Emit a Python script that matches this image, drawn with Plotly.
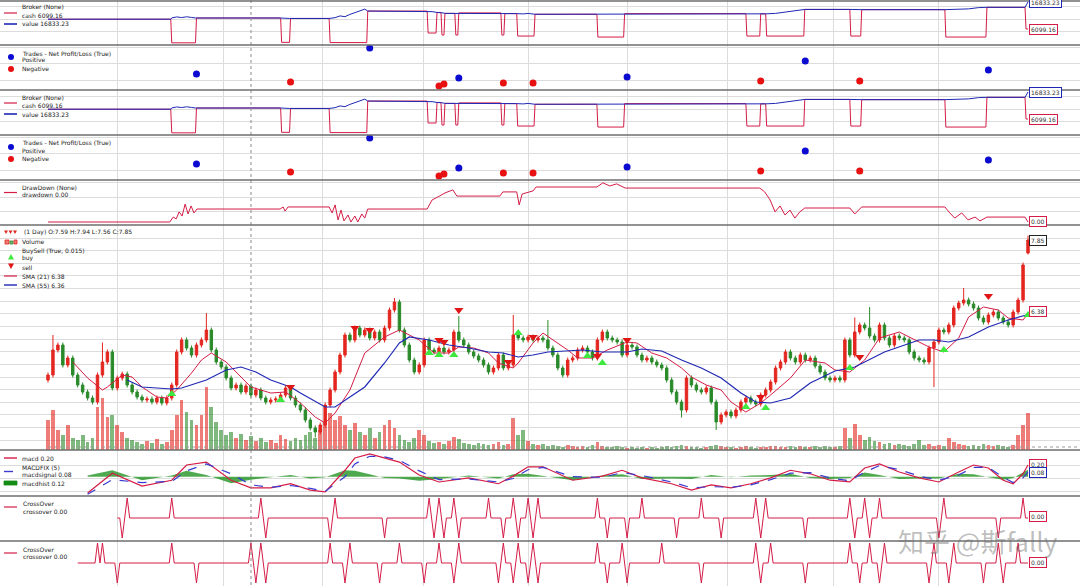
import plotly.graph_objects as go
from plotly.subplots import make_subplots

# ---------------- data ----------------
closes = [
    5.15, 5.65, 5.75, 5.35, 5.49, 5.15, 4.95, 4.81, 4.69, 4.61,
    5.15, 5.41, 5.61, 4.89, 5.09, 5.17, 4.95, 4.81, 4.71, 4.65,
    4.67, 4.61, 4.69, 4.59, 4.69, 4.95, 5.61, 5.85, 5.69, 5.55,
    5.75, 5.85, 6.05, 5.65, 5.41, 5.31, 5.09, 4.89, 4.95, 4.81,
    4.93, 4.75, 4.85, 4.69, 4.61, 4.65, 4.67, 4.75, 4.89, 4.69,
    4.55, 4.45, 4.25, 4.09, 4.01, 4.15, 4.55, 4.85, 5.21, 5.55,
    5.95, 5.85, 6.09, 5.95, 6.05, 5.89, 6.01, 5.85, 6.09, 6.45,
    6.61, 6.05, 5.75, 5.45, 5.21, 5.35, 5.85, 5.65, 5.61, 5.69,
    5.61, 5.65, 6.01, 5.85, 5.75, 5.61, 5.53, 5.45, 5.35, 5.21,
    5.29, 5.55, 5.29, 5.35, 5.95, 5.89, 5.85, 5.91, 5.85, 5.89,
    5.85, 5.69, 5.55, 5.29, 5.15, 5.45, 5.49, 5.65, 5.69, 5.61,
    5.49, 5.85, 6.01, 5.89, 5.85, 5.81, 5.55, 5.75, 5.71, 5.55,
    5.45, 5.49, 5.41, 5.35, 5.29, 5.05, 4.81, 4.61, 4.45, 5.09,
    4.95, 4.85, 4.81, 4.89, 4.61, 4.21, 4.35, 4.41, 4.33, 4.45,
    4.61, 4.69, 4.61, 4.57, 4.75, 4.85, 5.01, 5.29, 5.41, 5.61,
    5.49, 5.41, 5.55, 5.45, 5.49, 5.33, 5.21, 5.09, 5.05, 5.09,
    5.05, 5.85, 5.55, 6.01, 6.15, 6.09, 5.93, 5.85, 6.15, 5.89,
    5.75, 5.93, 5.89, 5.85, 5.61, 5.49, 5.45, 5.41, 5.69, 5.81,
    6.05, 6.01, 6.15, 6.49, 6.59, 6.65, 6.57, 6.49, 6.29, 6.21,
    6.35, 6.41, 6.29, 6.21, 6.15, 6.41, 6.65, 7.35, 7.85]
first_open = 5.05
last_bar = {"o": 7.59, "h": 7.94, "l": 7.56, "c": 7.85}
high_spikes = {1: 5.95, 11: 5.80, 32: 6.39, 70: 6.69, 83: 6.33, 94: 6.35, 101: 6.25,
               163: 6.30, 166: 6.51, 185: 6.89}
low_spikes = {54: 3.90, 128: 4.30, 135: 4.05, 179: 4.91}
volume = [
    300, 400, 200, 150, 250, 120, 100, 150, 80, 120,
    430, 520, 330, 350, 250, 180, 120, 100, 80, 60,
    90, 70, 110, 60, 80, 200, 350, 500, 380, 300,
    250, 350, 630, 430, 280, 200, 150, 180, 120, 160,
    100, 140, 90, 120, 80, 100, 70, 150, 110, 90,
    120, 100, 150, 180, 120, 200, 280, 370, 300, 340,
    250, 200, 270, 180, 150, 220, 120, 180, 250, 300,
    220, 150, 100, 80, 120, 200, 150, 90, 70, 80,
    60, 90, 130, 110, 70, 60, 50, 70, 60, 50,
    60, 80, 50, 60, 320, 150, 200, 90, 60, 50,
    60, 40, 50, 40, 30, 50, 40, 30, 40, 30,
    50, 80, 40, 30, 30, 40, 30, 20, 30, 20,
    30, 20, 30, 20, 30, 40, 30, 40, 50, 40,
    30, 30, 20, 30, 40, 50, 40, 30, 30, 20,
    30, 40, 30, 20, 30, 30, 40, 40, 30, 30,
    40, 30, 40, 30, 30, 40, 30, 40, 30, 30,
    40, 220, 120, 260, 150, 100, 130, 90, 80, 60,
    70, 50, 60, 50, 40, 60, 100, 50, 60, 40,
    50, 40, 120, 80, 60, 50, 40, 50, 40, 60,
    50, 40, 50, 40, 30, 50, 150, 250, 370]

sma21_x = [5, 8, 11, 12, 15, 17, 19, 22, 24, 26, 29, 31, 33, 36, 39, 41, 45, 48, 51, 54,
           56, 58, 61, 64, 68, 71, 75, 78, 81, 83, 86, 89, 91, 94, 95, 98, 100, 102, 105, 107,
           110, 113, 117, 119, 122, 125, 128, 130, 133, 136, 138, 141, 144, 146, 150, 153, 157, 159, 162, 165,
           168, 172, 174, 178, 181, 184, 186, 189, 192, 194, 197, 198]
sma21_y = [5.41, 5.09, 4.85, 4.91, 5.15, 5.11, 4.91, 4.71, 4.69, 4.85, 5.19, 5.45, 5.59, 5.41, 5.11, 4.91, 4.79, 4.81, 4.59, 4.31,
           4.19, 4.39, 4.85, 5.59, 5.91, 6.05, 5.85, 5.59, 5.59, 5.71, 5.69, 5.59, 5.39, 5.29, 5.39, 5.79, 5.99, 5.85, 5.65, 5.49,
           5.49, 5.65, 5.81, 5.79, 5.59, 5.49, 5.29, 5.11, 4.95, 4.85, 4.61, 4.41, 4.59, 4.75, 5.09, 5.45, 5.39, 5.25, 5.21, 5.45,
           5.89, 6.01, 5.91, 5.71, 5.61, 5.89, 6.31, 6.51, 6.45, 6.29, 6.25, 6.38]
sma55_x = [16, 19, 25, 27, 32, 36, 39, 42, 45, 49, 51, 56, 58, 64, 68, 71, 73, 77, 81, 85,
           89, 92, 95, 98, 101, 108, 112, 117, 120, 124, 128, 132, 136, 140, 143, 146, 150, 154, 159, 163,
           169, 176, 179, 182, 186, 190, 194, 198]
sma55_y = [5.05, 4.91, 4.87, 4.89, 5.05, 5.25, 5.31, 5.21, 5.05, 4.91, 4.79, 4.51, 4.51, 4.91, 5.39, 5.79, 5.91, 5.85, 5.75, 5.69,
           5.61, 5.59, 5.51, 5.55, 5.61, 5.65, 5.61, 5.61, 5.67, 5.63, 5.45, 5.29, 5.09, 4.79, 4.61, 4.59, 4.69, 4.99, 5.23, 5.31,
           5.61, 5.85, 5.85, 5.81, 5.91, 6.11, 6.25, 6.36]

buy_x = [25, 47, 77, 79, 82, 95, 109, 112, 141, 145, 162, 181, 198]
buy_y = [4.77, 4.65, 5.59, 5.55, 5.55, 5.99, 5.53, 5.39, 4.51, 4.49, 5.29, 5.65, 6.35]
sell_x = [49, 62, 65, 79, 80, 83, 93, 98, 111, 117, 144, 164, 190]
sell_y = [4.91, 6.09, 6.05, 5.85, 5.81, 6.45, 5.41, 5.91, 5.53, 5.85, 4.71, 5.51, 6.73]

cash_x = [0, 24.8, 25.0, 29.8, 30.0, 47.0, 47.2, 48.8, 49.0, 56.8, 57.0, 64.4, 64.6, 76.6, 76.8, 78.4, 78.6,
          79.4, 79.6, 80.0, 80.2, 82.2, 82.4, 82.8, 83.0, 91.5, 91.7, 92.1, 92.3, 94.7, 94.9, 98.2, 98.4,
          110.9, 111.1, 116.3, 116.5, 141.0, 141.2, 143.8, 144.0, 145.0, 145.2, 152.7, 152.9, 162.0, 162.2,
          164.2, 164.4, 181.2, 181.4, 189.5, 189.7, 197.4, 197.6, 198]
cash_y = [10000, 10000, 600, 600, 10470, 10470, 800, 800, 10290, 10290, 700, 700, 13233, 13233, 4500, 4500, 12680,
          12680, 3700, 3700, 12310, 12310, 3700, 3700, 12500, 12500, 3700, 3700, 12220, 12220, 3300, 3300, 11950,
          11950, 2900, 2900, 12220, 12220, 3300, 3300, 12130, 12130, 3300, 3300, 13880, 13880, 3300,
          3300, 13790, 13790, 2900, 2900, 14710, 14710, 6099.16, 6099.16]
value_x = [0, 24.8, 25, 26, 27, 28, 29, 29.8, 47.0, 47.6, 48.8, 56.8, 58, 59, 60, 61, 62, 63, 64, 64.6,
           76.6, 77.6, 78.6, 79.4, 79.8, 80.2, 82.2, 82.6, 83.0, 91.5, 91.9, 92.3, 94.7, 96, 97, 98.4,
           110.9, 112, 114, 115, 116.5, 141.0, 142.5, 144.0, 145.0, 147, 149, 151, 152.9, 162.0, 163.2, 164.4,
           181.2, 183, 185, 186, 188, 189.7, 197.4, 198]
value_y = [10000, 10000, 10500, 10900, 10650, 10950, 10700, 10470, 10470, 10400, 10290, 10290, 10600, 11300,
           11000, 11900, 12600, 13100, 14000, 13233, 13233, 13000, 12680, 12680, 12500, 12310, 12310, 12450,
           12500, 12500, 12350, 12220, 12220, 12100, 12300, 11950, 11950, 12000, 12150, 12050, 12220, 12220,
           12180, 12130, 12130, 12300, 12900, 13400, 13880, 13880, 13700, 13790, 13790, 13900, 14300, 14100,
           14600, 14710, 14710, 16833.23]

trade_x = [30, 49, 65, 79, 80, 83, 92, 98, 117, 144, 153, 164, 190]
trade_pnl = [552, -184, 2944, -552, -368, 184, -276, -276, 276, -92, 1748, -92, 920]

dd_x = [0, 24.6, 25.3, 25.9, 26.5, 27.1, 27.7, 28.3, 28.9, 29.5, 30.1, 46.9, 47.5, 47.9, 48.5,
        56.8, 57.4, 58.0, 58.6, 59.2, 59.8, 60.6, 61.2, 62.0, 62.6, 63.4, 64.0, 64.6,
        76.6, 77.6, 78.8, 80.2, 81.8, 82.6, 91.3, 91.9, 94.7, 95.2, 95.8, 98.0, 98.6,
        110.9, 112.1, 113.5, 114.9, 116.6, 143.8, 144.8, 145.9, 146.9, 147.9, 148.9, 149.9, 150.9, 151.9, 152.9,
        162.0, 163.0, 164.4, 181.2, 182.2, 183.2, 184.6, 185.9, 187.3, 188.3, 189.7, 197.4, 198]
dd_y = [0, 0, 1.9, 1.2, 3.9, 2.3, 6.9, 3.1, 6.2, 3.5, 5.0, 5.0, 5.8, 4.2, 5.8,
        5.8, 3.5, 6.6, 0.8, 4.6, 0.4, 2.7, 0, 2.3, 0, 3.1, 1.5, 5.0,
        5.0, 8.5, 9.7, 11.2, 12.4, 10.0, 10.0, 11.6, 11.6, 6.6, 10.8, 12.0, 13.5,
        13.5, 15.1, 13.9, 14.7, 13.1, 13.1, 11.6, 8.5, 3.9, 6.2, 2.7, 4.6, 1.5, 3.9, 5.4,
        5.4, 3.1, 5.8, 5.8, 3.5, 1.5, 3.5, 0.8, 1.9, 0.4, 1.9, 1.9, 0]

macd_x = [8, 13, 19, 25, 28, 32, 37, 41, 45, 49, 53, 56, 60, 62, 65, 68, 71, 75, 79, 85,
          91, 94, 97, 100, 106, 112, 116, 120, 126, 130, 134, 138, 142, 146, 150, 154, 158, 162, 165, 168,
          172, 176, 180, 184, 187, 190, 193, 195, 197, 198]
macd_y = [-0.28, 0.06, -0.16, -0.06, 0.20, 0.25, -0.06, -0.19, -0.19, -0.12, -0.23, -0.26, 0.11, 0.32, 0.39, 0.32, 0.25, 0.03, -0.09, -0.02,
          -0.12, 0.01, 0.17, 0.17, -0.06, 0.01, 0.11, -0.02, -0.12, -0.23, -0.14, -0.19, -0.12, -0.02, 0.11, 0.05, -0.06, -0.09, 0.15, 0.22,
          0.08, -0.02, -0.09, 0.08, 0.20, 0.15, -0.06, -0.12, 0.05, 0.20]
macd_sig = [-0.30, -0.05, -0.10, -0.08, 0.10, 0.22, 0.05, -0.14, -0.18, -0.15, -0.20, -0.25, 0.00, 0.22, 0.35, 0.34, 0.28, 0.10, -0.05, -0.04,
            -0.09, -0.03, 0.12, 0.16, 0.00, -0.01, 0.07, 0.02, -0.09, -0.19, -0.17, -0.18, -0.14, -0.05, 0.06, 0.07, -0.02, -0.07, 0.08, 0.19,
            0.12, 0.01, -0.06, 0.03, 0.16, 0.16, -0.01, -0.10, -0.02, 0.08]
macd_hist = [0.02, 0.11, -0.06, 0.02, 0.10, 0.03, -0.11, -0.05, -0.01, 0.03, -0.03, -0.01, 0.11, 0.10, 0.04, -0.02, -0.03, -0.07, -0.04, 0.02,
             -0.03, 0.04, 0.05, 0.01, -0.06, 0.02, 0.04, -0.04, -0.03, -0.04, 0.03, -0.01, 0.02, 0.03, 0.05, -0.02, -0.04, -0.02, 0.07, 0.03,
             -0.04, -0.03, -0.03, 0.05, 0.04, -0.01, -0.05, -0.02, 0.07, 0.12]

cross1_start = 14
cross1_events = {15: -1, 16: 1, 25: 1, 43: 1, 44: -1, 57: -1, 58: 1, 68: -1, 77: 1, 78: -1, 79: 1, 80: -1,
                 82: 1, 83: -1, 89: 1, 92: -1, 94: 1, 95: -1, 97: 1, 98: -1, 99: 1, 111: 1, 113: -1, 117: -1,
                 120: 1, 127: -1, 132: 1, 136: -1, 143: 1, 144: -1, 145: 1, 153: -1, 162: 1, 163: -1, 165: 1,
                 166: -1, 168: 1, 180: -1, 181: 1, 192: -1, 197: 1}
cross2_start = 6
cross2_events = {10: 1, 11: 1, 14: -1, 25: 1, 30: -1, 41: 1, 42: -1, 43: 1, 44: -1, 57: 1, 60: -1, 61: 1,
                 67: -1, 71: 1, 76: -1, 79: 1, 82: -1, 83: 1, 91: -1, 92: 1, 94: -1, 95: 1, 97: -1, 98: 1,
                 99: -1, 111: 1, 113: -1, 116: 1, 117: -1, 124: 1, 132: -1, 143: 1, 144: -1, 146: 1, 153: -1,
                 162: 1, 164: -1, 166: 1, 168: -1, 169: 1, 178: -1, 179: 1, 182: -1, 183: 1, 189: -1, 192: 1,
                 193: -1, 196: 1}

# ---------------- derived OHLC ----------------
N = len(closes)
idx = list(range(N))
opens = [first_open] + closes[:-1]
opens[-1] = last_bar["o"]
highs = [high_spikes.get(i, max(opens[i], closes[i]) + 0.05) for i in idx]
lows = [low_spikes.get(i, min(opens[i], closes[i]) - 0.05) for i in idx]
highs[-1] = last_bar["h"]
lows[-1] = last_bar["l"]

RED = "#e3261f"
GREEN = "#2a8a2a"
CRIMSON = "#d41c46"
BLUE = "#1f28b4"
FONT = "DejaVu Sans"
FS = 6
W, H = 1080, 586
GRID = "#dcdcdc"

heights = [45, 45, 45, 45, 45, 225, 46, 45, 45]
specs = [[{}]] * 5 + [[{"secondary_y": True}]] + [[{}]] * 3
fig = make_subplots(rows=9, cols=1, shared_xaxes=True, vertical_spacing=0,
                    row_heights=heights, specs=specs)

# Row 1 & 3: broker
for r in (1, 3):
    fig.add_trace(go.Scatter(x=cash_x, y=cash_y, mode="lines", line=dict(color=CRIMSON, width=1)), row=r, col=1)
    fig.add_trace(go.Scatter(x=value_x, y=value_y, mode="lines", line=dict(color=BLUE, width=1)), row=r, col=1)
# Row 2 & 4: trades
pos_x = [x for x, p in zip(trade_x, trade_pnl) if p >= 0]
pos_y = [p for p in trade_pnl if p >= 0]
neg_x = [x for x, p in zip(trade_x, trade_pnl) if p < 0]
neg_y = [p for p in trade_pnl if p < 0]
for r in (2, 4):
    fig.add_trace(go.Scatter(x=pos_x, y=pos_y, mode="markers", marker=dict(color="#0a0ad0", size=7)), row=r, col=1)
    fig.add_trace(go.Scatter(x=neg_x, y=neg_y, mode="markers", marker=dict(color="#e81010", size=7)), row=r, col=1)
# Row 5: drawdown
fig.add_trace(go.Scatter(x=dd_x, y=dd_y, mode="lines", line=dict(color=CRIMSON, width=1)), row=5, col=1)

# Row 6: price + volume
vcolors = ["rgba(227,38,31,0.6)" if closes[i] >= opens[i] else "rgba(42,138,42,0.6)" for i in idx]
fig.add_trace(go.Bar(x=idx, y=volume, marker=dict(color=vcolors, line=dict(width=0)), width=0.75),
              row=6, col=1, secondary_y=True)
fig.add_trace(go.Candlestick(x=idx, open=opens, high=highs, low=lows, close=closes,
                             increasing=dict(line=dict(color=RED, width=1), fillcolor=RED),
                             decreasing=dict(line=dict(color=GREEN, width=1), fillcolor=GREEN),
                             whiskerwidth=0), row=6, col=1)
fig.add_trace(go.Scatter(x=sma21_x, y=sma21_y, mode="lines", line=dict(color=CRIMSON, width=1)), row=6, col=1)
fig.add_trace(go.Scatter(x=sma55_x, y=sma55_y, mode="lines", line=dict(color=BLUE, width=1.2)), row=6, col=1)
fig.add_trace(go.Scatter(x=buy_x, y=buy_y, mode="markers",
                         marker=dict(symbol="triangle-up", color="#3ee83e", size=8)), row=6, col=1)
fig.add_trace(go.Scatter(x=sell_x, y=sell_y, mode="markers",
                         marker=dict(symbol="triangle-down", color="#e01515", size=8)), row=6, col=1)

# Row 7: MACD
fig.add_trace(go.Scatter(x=macd_x, y=macd_hist, mode="lines", fill="tozeroy",
                         fillcolor="rgba(20,140,20,0.75)", line=dict(width=0, color="rgba(20,140,20,0.75)")),
              row=7, col=1)
fig.add_trace(go.Scatter(x=macd_x, y=macd_y, mode="lines", line=dict(color=CRIMSON, width=1.2)), row=7, col=1)
fig.add_trace(go.Scatter(x=macd_x, y=macd_sig, mode="lines", line=dict(color="#3a3ad0", width=1.2, dash="dash")),
              row=7, col=1)

# Rows 8 & 9: crossovers (narrow spikes at each event bar)
for r, start, ev in ((8, cross1_start, cross1_events), (9, cross2_start, cross2_events)):
    xs, ys = [start], [0]
    for i in sorted(ev):
        xs += [i - 0.5, i, i + 0.5]
        ys += [0, ev[i], 0]
    xs.append(N - 1)
    ys.append(0)
    fig.add_trace(go.Scatter(x=xs, y=ys, mode="lines", line=dict(color=CRIMSON, width=1)), row=r, col=1)

# ---------------- axes ----------------
s = 980 / 198
def xi(px):
    return (px - 48) / s

vgrid = [xi(p) for p in (117, 223, 322, 423, 528, 627, 727, 833, 938)]
fig.update_xaxes(domain=[0, 1], range=[xi(0), xi(1080)], showticklabels=False, ticks="", tickvals=vgrid,
                 showgrid=True, gridcolor=GRID, gridwidth=1, zeroline=False, showline=False,
                 rangeslider_visible=False)

def yax(row, rng, tv, secondary=False, grid=True):
    fig.update_yaxes(range=rng, tickvals=tv, showticklabels=False, ticks="", showgrid=grid,
                     gridcolor=GRID, gridwidth=1, zeroline=False, showline=False,
                     row=row, col=1, secondary_y=secondary)

yax(1, [-262.4, 17629.6], [5000, 10000, 15000])
yax(3, [-262.4, 17629.6], [5000, 10000, 15000])
yax(2, [-920, 3220], [0, 1500, 3000])
yax(4, [-920, 3220], [0, 1500, 3000])
yax(5, [-1.16, 16.2], [3.98, 9.53, 15.1])
price_grid = [12.65 - (250.7 + 12.63 * k) / 50 for k in range(-1, 16)]
yax(6, [3.65, 8.15], price_grid)
yax(6, [0, 2250], [], secondary=True, grid=False)
yax(7, [-0.330, 0.457], [0.2, -0.022, -0.245])
yax(8, [-1.15, 1.1], [], grid=False)
yax(9, [-1.15, 1.1], [], grid=False)

# ---------------- decorations ----------------
shapes = []
annotations = []

def px(x):
    return x / W

def py(y):
    return 1 - y / H

def hline(x0, x1, y, color, width=1.0, dash=None):
    shapes.append(dict(type="line", xref="paper", yref="paper", x0=px(x0), x1=px(x1), y0=py(y), y1=py(y),
                       line=dict(color=color, width=width, dash=dash)))

def vline(x, y0, y1, color, width=1.0, dash=None):
    shapes.append(dict(type="line", xref="paper", yref="paper", x0=px(x), x1=px(x), y0=py(y0), y1=py(y1),
                       line=dict(color=color, width=width, dash=dash)))

def rect(x0, y0, x1, y1, fill, line=None):
    shapes.append(dict(type="rect", xref="paper", yref="paper", x0=px(x0), x1=px(x1), y0=py(y1), y1=py(y0),
                       fillcolor=fill, line=dict(color=line or fill, width=0.8)))

def dot(x, y, r, color):
    shapes.append(dict(type="circle", xref="paper", yref="paper", x0=px(x - r), x1=px(x + r),
                       y0=py(y + r), y1=py(y - r), fillcolor=color, line=dict(color=color, width=0)))

def tri(x, y, r, color, up=True):
    if up:
        pts = [(x - r, y + r * 0.8), (x + r, y + r * 0.8), (x, y - r)]
    else:
        pts = [(x - r, y - r * 0.8), (x + r, y - r * 0.8), (x, y + r)]
    path = "M " + " L ".join(f"{px(a)},{py(b)}" for a, b in pts) + " Z"
    shapes.append(dict(type="path", xref="paper", yref="paper", path=path, fillcolor=color,
                       line=dict(color=color, width=0)))

def txt(x, y, s, size=FS, color="#222222"):
    annotations.append(dict(x=px(x), y=py(y), xref="paper", yref="paper", text=s, showarrow=False,
                            xanchor="left", yanchor="middle", borderpad=0,
                            font=dict(family=FONT, size=size, color=color)))

def tag(y, s, border):
    annotations.append(dict(x=px(1029), y=py(y), xref="paper", yref="paper", text=s, showarrow=False,
                            xanchor="left", yanchor="middle", bgcolor="white", bordercolor=border,
                            borderwidth=1, borderpad=1, font=dict(family=FONT, size=FS, color="#333333")))

# vertical dotted cursor line
vline(251, 0, 586, "#8a8a8a", 1, "dot")
# volume dotted baseline
hline(48, 1080, 447, "#9a9a9a", 1, "dot")
# panel separators
for yb in (1, 45, 90, 135, 180, 225, 450, 496, 541):
    hline(0, 1080, yb, "#6e6e6e", 1.5)

# legends
for off in (0, 90):
    txt(21, 7 + off, "Broker (None)")
    txt(21, 15 + off, f"cash {cash_y[-1]:.2f}")
    txt(21, 24 + off, f"value {value_y[-1]:.2f}")
    hline(4, 17, 13 + off, CRIMSON, 1.2)
    hline(4, 17, 24 + off, BLUE, 1.6)
    txt(21, 53 + off, "Trades - Net Profit/Loss (True)")
    txt(21, 60 + off, "Positive")
    txt(21, 69 + off, "Negative")
    dot(11, 57 + off, 3, "#0a0ad0")
    dot(11, 69 + off, 3, "#e81010")
txt(21, 187.5, "DrawDown (None)")
txt(21, 195, f"drawdown {dd_y[-1]:.2f}")
hline(4, 17, 192.5, CRIMSON, 1.2)

txt(23, 232, f"(1 Day) O:{last_bar['o']:.2f} H:{last_bar['h']:.2f} L:{last_bar['l']:.2f} C:{last_bar['c']:.2f}")
for cx in (6, 10.5, 15):
    tri(cx, 232, 2, RED, up=False)
txt(21, 242, "Volume")
rect(5, 240, 9, 244, "rgba(227,38,31,0.6)", RED)
rect(10, 241, 13, 244, "rgba(42,138,42,0.6)", GREEN)
rect(14, 240, 17, 244, "rgba(227,38,31,0.6)", RED)
txt(21, 251, "BuySell (True, 0.015)")
txt(21, 258, "buy")
tri(11, 257, 3, "#3ee83e", up=True)
txt(21, 267, "sell")
tri(11, 266, 3, "#e01515", up=False)
txt(21, 276, f"SMA (21) {sma21_y[-1]:.2f}")
hline(4, 17, 276, CRIMSON, 1.2)
txt(21, 285, f"SMA (55) {sma55_y[-1]:.2f}")
hline(4, 17, 285, BLUE, 1.4)

txt(21, 458, f"macd {macd_y[-1]:.2f}")
hline(4, 17, 458, CRIMSON, 1.4)
txt(21, 467, "MACDFIX (5)")
txt(21, 475, f"macdsignal {macd_sig[-1]:.2f}")
hline(4, 17, 471.5, "#3a3ad0", 1.4, "dash")
txt(21, 483, f"macdhist {macd_hist[-1]:.2f}")
rect(4, 481, 17, 485, "#148c14")

txt(22, 503, "CrossOver")
txt(22, 511, "crossover 0.00")
hline(4, 17, 507, CRIMSON, 1.2)
txt(22, 549, "CrossOver")
txt(22, 556.5, "crossover 0.00")
hline(4, 17, 553, CRIMSON, 1.2)

# value tags at the right
tag(3, f"{value_y[-1]:.2f}", BLUE)
tag(29.5, f"{cash_y[-1]:.2f}", CRIMSON)
tag(92, f"{value_y[-1]:.2f}", BLUE)
tag(119, f"{cash_y[-1]:.2f}", CRIMSON)
tag(222, f"{dd_y[-1]:.2f}", CRIMSON)
tag(240, f"{closes[-1]:.2f}", "#222222")
tag(311.5, f"{sma21_y[-1]:.2f}", CRIMSON)
tag(464.5, f"{macd_y[-1]:.2f}", CRIMSON)
tag(472.5, f"{macd_sig[-1]:.2f}", BLUE)
tag(516, "0.00", CRIMSON)
tag(562, "0.00", CRIMSON)

# watermark
annotations.append(dict(x=px(978), y=py(540), xref="paper", yref="paper", text="知乎 @斯fally",
                        showarrow=False, xanchor="center", yanchor="middle",
                        font=dict(family="Noto Sans CJK SC", size=26, color="rgba(110,110,110,0.45)")))

fig.update_layout(width=W, height=H, margin=dict(l=0, r=0, t=0, b=0, pad=0), showlegend=False,
                  paper_bgcolor="white", plot_bgcolor="white", bargap=0,
                  shapes=shapes, annotations=annotations, hovermode=False)

fig.write_html("out.html", config={"displayModeBar": False},
               post_script="document.body.style.margin='0';document.body.style.overflow='hidden';")
